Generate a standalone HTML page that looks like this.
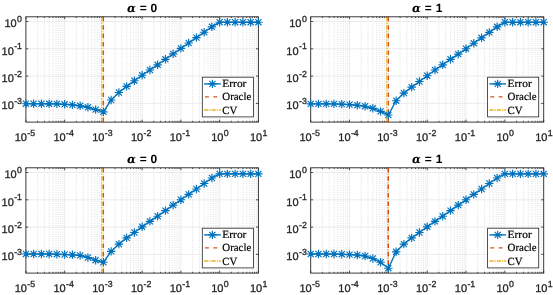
<!DOCTYPE html><html><head><meta charset="utf-8"><title>Error plots</title>
<style>html,body{margin:0;padding:0;background:#fff;overflow:hidden}svg{display:block}text{font-family:"Liberation Sans",Arial,sans-serif;fill:#262626;text-rendering:geometricPrecision}.lg{font-family:"Liberation Serif","Times New Roman",serif;font-size:11px;fill:#000;stroke:#000;stroke-width:0.2px}.tl{font-size:11px;stroke:#262626;stroke-width:0.3px}.sup{font-size:8.8px}.ti{font-size:12px;font-weight:bold;fill:#000;word-spacing:0.5px}.al{font-family:"DejaVu Serif",serif;font-style:italic;font-weight:bold;font-size:11.6px}</style></head><body>
<svg width="553" height="295" viewBox="0 0 553 295">
<defs><g id="m" stroke="#0072BD" stroke-width="1.15" fill="none"><path d="M-4.2 0H4.2M0 -4.2V4.2M-3.05 -3.05L3.05 3.05M-3.05 3.05L3.05 -3.05"/></g></defs>
<rect width="553" height="295" fill="#fff"/>
<g>
<path d="M37.56 16.8V122.1M44.39 16.8V122.1M49.23 16.8V122.1M52.99 16.8V122.1M56.05 16.8V122.1M58.65 16.8V122.1M60.89 16.8V122.1M62.88 16.8V122.1M76.31 16.8V122.1M83.14 16.8V122.1M87.98 16.8V122.1M91.74 16.8V122.1M94.8 16.8V122.1M97.4 16.8V122.1M99.64 16.8V122.1M101.63 16.8V122.1M115.06 16.8V122.1M121.89 16.8V122.1M126.73 16.8V122.1M130.49 16.8V122.1M133.55 16.8V122.1M136.15 16.8V122.1M138.39 16.8V122.1M140.38 16.8V122.1M153.81 16.8V122.1M160.64 16.8V122.1M165.48 16.8V122.1M169.24 16.8V122.1M172.3 16.8V122.1M174.9 16.8V122.1M177.14 16.8V122.1M179.13 16.8V122.1M192.56 16.8V122.1M199.39 16.8V122.1M204.23 16.8V122.1M207.99 16.8V122.1M211.05 16.8V122.1M213.65 16.8V122.1M215.89 16.8V122.1M217.88 16.8V122.1M231.31 16.8V122.1M238.14 16.8V122.1M242.98 16.8V122.1M246.74 16.8V122.1M249.8 16.8V122.1M252.4 16.8V122.1M254.64 16.8V122.1M256.63 16.8V122.1" stroke="#c8c8c8" stroke-width="0.6" stroke-dasharray="0.9 1.3" fill="none"/>
<path d="M64.65 16.8V122.1M103.4 16.8V122.1M142.15 16.8V122.1M180.9 16.8V122.1M219.65 16.8V122.1M25.9 21.5H258.4M25.9 48.8H258.4M25.9 76.1H258.4M25.9 103.4H258.4" stroke="#e6e6e6" stroke-width="0.75" fill="none"/>
<path d="M25.9 122.1v-2.4M25.9 16.8v2.4M37.56 122.1v-1.2M37.56 16.8v1.2M44.39 122.1v-1.2M44.39 16.8v1.2M49.23 122.1v-1.2M49.23 16.8v1.2M52.99 122.1v-1.2M52.99 16.8v1.2M56.05 122.1v-1.2M56.05 16.8v1.2M58.65 122.1v-1.2M58.65 16.8v1.2M60.89 122.1v-1.2M60.89 16.8v1.2M62.88 122.1v-1.2M62.88 16.8v1.2M64.65 122.1v-2.4M64.65 16.8v2.4M76.31 122.1v-1.2M76.31 16.8v1.2M83.14 122.1v-1.2M83.14 16.8v1.2M87.98 122.1v-1.2M87.98 16.8v1.2M91.74 122.1v-1.2M91.74 16.8v1.2M94.8 122.1v-1.2M94.8 16.8v1.2M97.4 122.1v-1.2M97.4 16.8v1.2M99.64 122.1v-1.2M99.64 16.8v1.2M101.63 122.1v-1.2M101.63 16.8v1.2M103.4 122.1v-2.4M103.4 16.8v2.4M115.06 122.1v-1.2M115.06 16.8v1.2M121.89 122.1v-1.2M121.89 16.8v1.2M126.73 122.1v-1.2M126.73 16.8v1.2M130.49 122.1v-1.2M130.49 16.8v1.2M133.55 122.1v-1.2M133.55 16.8v1.2M136.15 122.1v-1.2M136.15 16.8v1.2M138.39 122.1v-1.2M138.39 16.8v1.2M140.38 122.1v-1.2M140.38 16.8v1.2M142.15 122.1v-2.4M142.15 16.8v2.4M153.81 122.1v-1.2M153.81 16.8v1.2M160.64 122.1v-1.2M160.64 16.8v1.2M165.48 122.1v-1.2M165.48 16.8v1.2M169.24 122.1v-1.2M169.24 16.8v1.2M172.3 122.1v-1.2M172.3 16.8v1.2M174.9 122.1v-1.2M174.9 16.8v1.2M177.14 122.1v-1.2M177.14 16.8v1.2M179.13 122.1v-1.2M179.13 16.8v1.2M180.9 122.1v-2.4M180.9 16.8v2.4M192.56 122.1v-1.2M192.56 16.8v1.2M199.39 122.1v-1.2M199.39 16.8v1.2M204.23 122.1v-1.2M204.23 16.8v1.2M207.99 122.1v-1.2M207.99 16.8v1.2M211.05 122.1v-1.2M211.05 16.8v1.2M213.65 122.1v-1.2M213.65 16.8v1.2M215.89 122.1v-1.2M215.89 16.8v1.2M217.88 122.1v-1.2M217.88 16.8v1.2M219.65 122.1v-2.4M219.65 16.8v2.4M231.31 122.1v-1.2M231.31 16.8v1.2M238.14 122.1v-1.2M238.14 16.8v1.2M242.98 122.1v-1.2M242.98 16.8v1.2M246.74 122.1v-1.2M246.74 16.8v1.2M249.8 122.1v-1.2M249.8 16.8v1.2M252.4 122.1v-1.2M252.4 16.8v1.2M254.64 122.1v-1.2M254.64 16.8v1.2M256.63 122.1v-1.2M256.63 16.8v1.2M258.4 122.1v-2.4M258.4 16.8v2.4M25.9 21.5h2.4M258.4 21.5h-2.4M25.9 48.8h2.4M258.4 48.8h-2.4M25.9 76.1h2.4M258.4 76.1h-2.4M25.9 103.4h2.4M258.4 103.4h-2.4" stroke="#262626" stroke-width="0.8" fill="none"/>
<path d="M101.9 16.8V122.1" stroke="#EDB120" stroke-width="1.3" stroke-dasharray="4.4 1.3 1.4 1.3" fill="none"/>
<path d="M103.4 16.8V122.1" stroke="#D95319" stroke-width="1.3" stroke-dasharray="4.6 3.8" fill="none"/>
<rect x="25.9" y="16.8" width="232.5" height="105.3" fill="none" stroke="#262626" stroke-width="0.9"/>
<path d="M25.9 103.7 L33.65 103.7 L41.4 103.7 L49.15 103.8 L56.9 103.9 L64.65 104.3 L72.4 104.9 L80.15 105.8 L87.9 107.3 L95.65 109.6 L103.4 111.8 L111.15 100 L118.9 92.5 L126.65 86.4 L134.4 80.7 L142.15 75.2 L149.9 70 L157.65 64.8 L165.4 59.3 L173.15 53.9 L180.9 48.4 L188.65 43 L196.4 37.6 L204.15 32.2 L211.9 26.8 L219.65 22.2 L227.4 22.2 L235.15 22.2 L242.9 22.2 L250.65 22.2 L258.4 22.2" stroke="#0072BD" stroke-width="1.4" fill="none" stroke-linejoin="round"/>
<use href="#m" x="25.9" y="103.7"/>
<use href="#m" x="33.65" y="103.7"/>
<use href="#m" x="41.4" y="103.7"/>
<use href="#m" x="49.15" y="103.8"/>
<use href="#m" x="56.9" y="103.9"/>
<use href="#m" x="64.65" y="104.3"/>
<use href="#m" x="72.4" y="104.9"/>
<use href="#m" x="80.15" y="105.8"/>
<use href="#m" x="87.9" y="107.3"/>
<use href="#m" x="95.65" y="109.6"/>
<use href="#m" x="103.4" y="111.8"/>
<use href="#m" x="111.15" y="100"/>
<use href="#m" x="118.9" y="92.5"/>
<use href="#m" x="126.65" y="86.4"/>
<use href="#m" x="134.4" y="80.7"/>
<use href="#m" x="142.15" y="75.2"/>
<use href="#m" x="149.9" y="70"/>
<use href="#m" x="157.65" y="64.8"/>
<use href="#m" x="165.4" y="59.3"/>
<use href="#m" x="173.15" y="53.9"/>
<use href="#m" x="180.9" y="48.4"/>
<use href="#m" x="188.65" y="43"/>
<use href="#m" x="196.4" y="37.6"/>
<use href="#m" x="204.15" y="32.2"/>
<use href="#m" x="211.9" y="26.8"/>
<use href="#m" x="219.65" y="22.2"/>
<use href="#m" x="227.4" y="22.2"/>
<use href="#m" x="235.15" y="22.2"/>
<use href="#m" x="242.9" y="22.2"/>
<use href="#m" x="250.65" y="22.2"/>
<use href="#m" x="258.4" y="22.2"/>
<rect x="202.3" y="77.2" width="51.1" height="39.7" fill="#fff" stroke="#262626" stroke-width="0.8"/>
<path d="M204.1 83.9h16.7" stroke="#0072BD" stroke-width="1.4"/><use href="#m" x="212.4" y="83.9"/>
<path d="M205 96.95h14" stroke="#D95319" stroke-width="1.3" stroke-dasharray="3.9 4.5"/>
<path d="M204.1 110h16.7" stroke="#EDB120" stroke-width="1.3" stroke-dasharray="4.2 1 1.2 1"/>
<text class="lg" x="222.3" y="87.4" textLength="24.1" lengthAdjust="spacingAndGlyphs">Error</text>
<text class="lg" x="222.3" y="100.45" textLength="29" lengthAdjust="spacingAndGlyphs">Oracle</text>
<text class="lg" x="222.3" y="113.5" textLength="15" lengthAdjust="spacingAndGlyphs">CV</text>
<text class="tl" x="22" y="27.3" text-anchor="end">10<tspan class="sup" dx="0.4" dy="-5.3">0</tspan></text>
<text class="tl" x="22" y="54.6" text-anchor="end">10<tspan class="sup" dx="0.4" dy="-5.3">-1</tspan></text>
<text class="tl" x="22" y="81.9" text-anchor="end">10<tspan class="sup" dx="0.4" dy="-5.3">-2</tspan></text>
<text class="tl" x="22" y="109.2" text-anchor="end">10<tspan class="sup" dx="0.4" dy="-5.3">-3</tspan></text>
<text class="tl" x="24.9" y="141.4" text-anchor="middle">10<tspan class="sup" dx="0.4" dy="-5.3">-5</tspan></text>
<text class="tl" x="63.65" y="141.4" text-anchor="middle">10<tspan class="sup" dx="0.4" dy="-5.3">-4</tspan></text>
<text class="tl" x="102.4" y="141.4" text-anchor="middle">10<tspan class="sup" dx="0.4" dy="-5.3">-3</tspan></text>
<text class="tl" x="141.15" y="141.4" text-anchor="middle">10<tspan class="sup" dx="0.4" dy="-5.3">-2</tspan></text>
<text class="tl" x="179.9" y="141.4" text-anchor="middle">10<tspan class="sup" dx="0.4" dy="-5.3">-1</tspan></text>
<text class="tl" x="219.95" y="141.4" text-anchor="middle">10<tspan class="sup" dx="0.4" dy="-5.3">0</tspan></text>
<text class="tl" x="258.7" y="141.4" text-anchor="middle">10<tspan class="sup" dx="0.4" dy="-5.3">1</tspan></text>
<text class="ti" x="142.15" y="12" text-anchor="middle"><tspan class="al">α</tspan> = 0</text>
</g>
<g>
<path d="M322.39 16.8V122.1M329.23 16.8V122.1M334.08 16.8V122.1M337.84 16.8V122.1M340.92 16.8V122.1M343.52 16.8V122.1M345.77 16.8V122.1M347.76 16.8V122.1M361.22 16.8V122.1M368.06 16.8V122.1M372.91 16.8V122.1M376.68 16.8V122.1M379.75 16.8V122.1M382.35 16.8V122.1M384.6 16.8V122.1M386.59 16.8V122.1M400.06 16.8V122.1M406.89 16.8V122.1M411.75 16.8V122.1M415.51 16.8V122.1M418.58 16.8V122.1M421.18 16.8V122.1M423.44 16.8V122.1M425.42 16.8V122.1M438.89 16.8V122.1M445.73 16.8V122.1M450.58 16.8V122.1M454.34 16.8V122.1M457.42 16.8V122.1M460.02 16.8V122.1M462.27 16.8V122.1M464.26 16.8V122.1M477.72 16.8V122.1M484.56 16.8V122.1M489.41 16.8V122.1M493.18 16.8V122.1M496.25 16.8V122.1M498.85 16.8V122.1M501.1 16.8V122.1M503.09 16.8V122.1M516.56 16.8V122.1M523.39 16.8V122.1M528.25 16.8V122.1M532.01 16.8V122.1M535.08 16.8V122.1M537.68 16.8V122.1M539.94 16.8V122.1M541.92 16.8V122.1" stroke="#c8c8c8" stroke-width="0.6" stroke-dasharray="0.9 1.3" fill="none"/>
<path d="M349.53 16.8V122.1M388.37 16.8V122.1M427.2 16.8V122.1M466.03 16.8V122.1M504.87 16.8V122.1M310.7 21.5H543.7M310.7 48.8H543.7M310.7 76.1H543.7M310.7 103.4H543.7" stroke="#e6e6e6" stroke-width="0.75" fill="none"/>
<path d="M310.7 122.1v-2.4M310.7 16.8v2.4M322.39 122.1v-1.2M322.39 16.8v1.2M329.23 122.1v-1.2M329.23 16.8v1.2M334.08 122.1v-1.2M334.08 16.8v1.2M337.84 122.1v-1.2M337.84 16.8v1.2M340.92 122.1v-1.2M340.92 16.8v1.2M343.52 122.1v-1.2M343.52 16.8v1.2M345.77 122.1v-1.2M345.77 16.8v1.2M347.76 122.1v-1.2M347.76 16.8v1.2M349.53 122.1v-2.4M349.53 16.8v2.4M361.22 122.1v-1.2M361.22 16.8v1.2M368.06 122.1v-1.2M368.06 16.8v1.2M372.91 122.1v-1.2M372.91 16.8v1.2M376.68 122.1v-1.2M376.68 16.8v1.2M379.75 122.1v-1.2M379.75 16.8v1.2M382.35 122.1v-1.2M382.35 16.8v1.2M384.6 122.1v-1.2M384.6 16.8v1.2M386.59 122.1v-1.2M386.59 16.8v1.2M388.37 122.1v-2.4M388.37 16.8v2.4M400.06 122.1v-1.2M400.06 16.8v1.2M406.89 122.1v-1.2M406.89 16.8v1.2M411.75 122.1v-1.2M411.75 16.8v1.2M415.51 122.1v-1.2M415.51 16.8v1.2M418.58 122.1v-1.2M418.58 16.8v1.2M421.18 122.1v-1.2M421.18 16.8v1.2M423.44 122.1v-1.2M423.44 16.8v1.2M425.42 122.1v-1.2M425.42 16.8v1.2M427.2 122.1v-2.4M427.2 16.8v2.4M438.89 122.1v-1.2M438.89 16.8v1.2M445.73 122.1v-1.2M445.73 16.8v1.2M450.58 122.1v-1.2M450.58 16.8v1.2M454.34 122.1v-1.2M454.34 16.8v1.2M457.42 122.1v-1.2M457.42 16.8v1.2M460.02 122.1v-1.2M460.02 16.8v1.2M462.27 122.1v-1.2M462.27 16.8v1.2M464.26 122.1v-1.2M464.26 16.8v1.2M466.03 122.1v-2.4M466.03 16.8v2.4M477.72 122.1v-1.2M477.72 16.8v1.2M484.56 122.1v-1.2M484.56 16.8v1.2M489.41 122.1v-1.2M489.41 16.8v1.2M493.18 122.1v-1.2M493.18 16.8v1.2M496.25 122.1v-1.2M496.25 16.8v1.2M498.85 122.1v-1.2M498.85 16.8v1.2M501.1 122.1v-1.2M501.1 16.8v1.2M503.09 122.1v-1.2M503.09 16.8v1.2M504.87 122.1v-2.4M504.87 16.8v2.4M516.56 122.1v-1.2M516.56 16.8v1.2M523.39 122.1v-1.2M523.39 16.8v1.2M528.25 122.1v-1.2M528.25 16.8v1.2M532.01 122.1v-1.2M532.01 16.8v1.2M535.08 122.1v-1.2M535.08 16.8v1.2M537.68 122.1v-1.2M537.68 16.8v1.2M539.94 122.1v-1.2M539.94 16.8v1.2M541.92 122.1v-1.2M541.92 16.8v1.2M543.7 122.1v-2.4M543.7 16.8v2.4M310.7 21.5h2.4M543.7 21.5h-2.4M310.7 48.8h2.4M543.7 48.8h-2.4M310.7 76.1h2.4M543.7 76.1h-2.4M310.7 103.4h2.4M543.7 103.4h-2.4" stroke="#262626" stroke-width="0.8" fill="none"/>
<path d="M386.87 16.8V122.1" stroke="#EDB120" stroke-width="1.3" stroke-dasharray="4.4 1.3 1.4 1.3" fill="none"/>
<path d="M388.37 16.8V122.1" stroke="#D95319" stroke-width="1.3" stroke-dasharray="4.6 3.8" fill="none"/>
<rect x="310.7" y="16.8" width="233" height="105.3" fill="none" stroke="#262626" stroke-width="0.9"/>
<path d="M310.7 103.9 L318.47 103.9 L326.23 103.9 L334 103.9 L341.77 104.1 L349.53 104.6 L357.3 105.3 L365.07 106.2 L372.83 108.3 L380.6 111.4 L388.37 115 L396.13 100.7 L403.9 93.1 L411.67 87.1 L419.43 81.5 L427.2 75.7 L434.97 70 L442.73 64.8 L450.5 59.3 L458.27 54.1 L466.03 48.7 L473.8 43.2 L481.57 37.8 L489.33 32.4 L497.1 26.8 L504.87 22.2 L512.63 22.2 L520.4 22.2 L528.17 22.2 L535.93 22.2 L543.7 22.2" stroke="#0072BD" stroke-width="1.4" fill="none" stroke-linejoin="round"/>
<use href="#m" x="310.7" y="103.9"/>
<use href="#m" x="318.47" y="103.9"/>
<use href="#m" x="326.23" y="103.9"/>
<use href="#m" x="334" y="103.9"/>
<use href="#m" x="341.77" y="104.1"/>
<use href="#m" x="349.53" y="104.6"/>
<use href="#m" x="357.3" y="105.3"/>
<use href="#m" x="365.07" y="106.2"/>
<use href="#m" x="372.83" y="108.3"/>
<use href="#m" x="380.6" y="111.4"/>
<use href="#m" x="388.37" y="115"/>
<use href="#m" x="396.13" y="100.7"/>
<use href="#m" x="403.9" y="93.1"/>
<use href="#m" x="411.67" y="87.1"/>
<use href="#m" x="419.43" y="81.5"/>
<use href="#m" x="427.2" y="75.7"/>
<use href="#m" x="434.97" y="70"/>
<use href="#m" x="442.73" y="64.8"/>
<use href="#m" x="450.5" y="59.3"/>
<use href="#m" x="458.27" y="54.1"/>
<use href="#m" x="466.03" y="48.7"/>
<use href="#m" x="473.8" y="43.2"/>
<use href="#m" x="481.57" y="37.8"/>
<use href="#m" x="489.33" y="32.4"/>
<use href="#m" x="497.1" y="26.8"/>
<use href="#m" x="504.87" y="22.2"/>
<use href="#m" x="512.63" y="22.2"/>
<use href="#m" x="520.4" y="22.2"/>
<use href="#m" x="528.17" y="22.2"/>
<use href="#m" x="535.93" y="22.2"/>
<use href="#m" x="543.7" y="22.2"/>
<rect x="487.6" y="77.2" width="51.1" height="39.7" fill="#fff" stroke="#262626" stroke-width="0.8"/>
<path d="M489.4 83.9h16.7" stroke="#0072BD" stroke-width="1.4"/><use href="#m" x="497.7" y="83.9"/>
<path d="M490.3 96.95h14" stroke="#D95319" stroke-width="1.3" stroke-dasharray="3.9 4.5"/>
<path d="M489.4 110h16.7" stroke="#EDB120" stroke-width="1.3" stroke-dasharray="4.2 1 1.2 1"/>
<text class="lg" x="507.6" y="87.4" textLength="24.1" lengthAdjust="spacingAndGlyphs">Error</text>
<text class="lg" x="507.6" y="100.45" textLength="29" lengthAdjust="spacingAndGlyphs">Oracle</text>
<text class="lg" x="507.6" y="113.5" textLength="15" lengthAdjust="spacingAndGlyphs">CV</text>
<text class="tl" x="306.8" y="27.3" text-anchor="end">10<tspan class="sup" dx="0.4" dy="-5.3">0</tspan></text>
<text class="tl" x="306.8" y="54.6" text-anchor="end">10<tspan class="sup" dx="0.4" dy="-5.3">-1</tspan></text>
<text class="tl" x="306.8" y="81.9" text-anchor="end">10<tspan class="sup" dx="0.4" dy="-5.3">-2</tspan></text>
<text class="tl" x="306.8" y="109.2" text-anchor="end">10<tspan class="sup" dx="0.4" dy="-5.3">-3</tspan></text>
<text class="tl" x="309.7" y="141.4" text-anchor="middle">10<tspan class="sup" dx="0.4" dy="-5.3">-5</tspan></text>
<text class="tl" x="348.53" y="141.4" text-anchor="middle">10<tspan class="sup" dx="0.4" dy="-5.3">-4</tspan></text>
<text class="tl" x="387.37" y="141.4" text-anchor="middle">10<tspan class="sup" dx="0.4" dy="-5.3">-3</tspan></text>
<text class="tl" x="426.2" y="141.4" text-anchor="middle">10<tspan class="sup" dx="0.4" dy="-5.3">-2</tspan></text>
<text class="tl" x="465.03" y="141.4" text-anchor="middle">10<tspan class="sup" dx="0.4" dy="-5.3">-1</tspan></text>
<text class="tl" x="505.17" y="141.4" text-anchor="middle">10<tspan class="sup" dx="0.4" dy="-5.3">0</tspan></text>
<text class="tl" x="544" y="141.4" text-anchor="middle">10<tspan class="sup" dx="0.4" dy="-5.3">1</tspan></text>
<text class="ti" x="427.2" y="12" text-anchor="middle"><tspan class="al">α</tspan> = 1</text>
</g>
<g>
<path d="M37.56 167.8V273.1M44.39 167.8V273.1M49.23 167.8V273.1M52.99 167.8V273.1M56.05 167.8V273.1M58.65 167.8V273.1M60.89 167.8V273.1M62.88 167.8V273.1M76.31 167.8V273.1M83.14 167.8V273.1M87.98 167.8V273.1M91.74 167.8V273.1M94.8 167.8V273.1M97.4 167.8V273.1M99.64 167.8V273.1M101.63 167.8V273.1M115.06 167.8V273.1M121.89 167.8V273.1M126.73 167.8V273.1M130.49 167.8V273.1M133.55 167.8V273.1M136.15 167.8V273.1M138.39 167.8V273.1M140.38 167.8V273.1M153.81 167.8V273.1M160.64 167.8V273.1M165.48 167.8V273.1M169.24 167.8V273.1M172.3 167.8V273.1M174.9 167.8V273.1M177.14 167.8V273.1M179.13 167.8V273.1M192.56 167.8V273.1M199.39 167.8V273.1M204.23 167.8V273.1M207.99 167.8V273.1M211.05 167.8V273.1M213.65 167.8V273.1M215.89 167.8V273.1M217.88 167.8V273.1M231.31 167.8V273.1M238.14 167.8V273.1M242.98 167.8V273.1M246.74 167.8V273.1M249.8 167.8V273.1M252.4 167.8V273.1M254.64 167.8V273.1M256.63 167.8V273.1" stroke="#c8c8c8" stroke-width="0.6" stroke-dasharray="0.9 1.3" fill="none"/>
<path d="M64.65 167.8V273.1M103.4 167.8V273.1M142.15 167.8V273.1M180.9 167.8V273.1M219.65 167.8V273.1M25.9 172.5H258.4M25.9 199.8H258.4M25.9 227.1H258.4M25.9 254.4H258.4" stroke="#e6e6e6" stroke-width="0.75" fill="none"/>
<path d="M25.9 273.1v-2.4M25.9 167.8v2.4M37.56 273.1v-1.2M37.56 167.8v1.2M44.39 273.1v-1.2M44.39 167.8v1.2M49.23 273.1v-1.2M49.23 167.8v1.2M52.99 273.1v-1.2M52.99 167.8v1.2M56.05 273.1v-1.2M56.05 167.8v1.2M58.65 273.1v-1.2M58.65 167.8v1.2M60.89 273.1v-1.2M60.89 167.8v1.2M62.88 273.1v-1.2M62.88 167.8v1.2M64.65 273.1v-2.4M64.65 167.8v2.4M76.31 273.1v-1.2M76.31 167.8v1.2M83.14 273.1v-1.2M83.14 167.8v1.2M87.98 273.1v-1.2M87.98 167.8v1.2M91.74 273.1v-1.2M91.74 167.8v1.2M94.8 273.1v-1.2M94.8 167.8v1.2M97.4 273.1v-1.2M97.4 167.8v1.2M99.64 273.1v-1.2M99.64 167.8v1.2M101.63 273.1v-1.2M101.63 167.8v1.2M103.4 273.1v-2.4M103.4 167.8v2.4M115.06 273.1v-1.2M115.06 167.8v1.2M121.89 273.1v-1.2M121.89 167.8v1.2M126.73 273.1v-1.2M126.73 167.8v1.2M130.49 273.1v-1.2M130.49 167.8v1.2M133.55 273.1v-1.2M133.55 167.8v1.2M136.15 273.1v-1.2M136.15 167.8v1.2M138.39 273.1v-1.2M138.39 167.8v1.2M140.38 273.1v-1.2M140.38 167.8v1.2M142.15 273.1v-2.4M142.15 167.8v2.4M153.81 273.1v-1.2M153.81 167.8v1.2M160.64 273.1v-1.2M160.64 167.8v1.2M165.48 273.1v-1.2M165.48 167.8v1.2M169.24 273.1v-1.2M169.24 167.8v1.2M172.3 273.1v-1.2M172.3 167.8v1.2M174.9 273.1v-1.2M174.9 167.8v1.2M177.14 273.1v-1.2M177.14 167.8v1.2M179.13 273.1v-1.2M179.13 167.8v1.2M180.9 273.1v-2.4M180.9 167.8v2.4M192.56 273.1v-1.2M192.56 167.8v1.2M199.39 273.1v-1.2M199.39 167.8v1.2M204.23 273.1v-1.2M204.23 167.8v1.2M207.99 273.1v-1.2M207.99 167.8v1.2M211.05 273.1v-1.2M211.05 167.8v1.2M213.65 273.1v-1.2M213.65 167.8v1.2M215.89 273.1v-1.2M215.89 167.8v1.2M217.88 273.1v-1.2M217.88 167.8v1.2M219.65 273.1v-2.4M219.65 167.8v2.4M231.31 273.1v-1.2M231.31 167.8v1.2M238.14 273.1v-1.2M238.14 167.8v1.2M242.98 273.1v-1.2M242.98 167.8v1.2M246.74 273.1v-1.2M246.74 167.8v1.2M249.8 273.1v-1.2M249.8 167.8v1.2M252.4 273.1v-1.2M252.4 167.8v1.2M254.64 273.1v-1.2M254.64 167.8v1.2M256.63 273.1v-1.2M256.63 167.8v1.2M258.4 273.1v-2.4M258.4 167.8v2.4M25.9 172.5h2.4M258.4 172.5h-2.4M25.9 199.8h2.4M258.4 199.8h-2.4M25.9 227.1h2.4M258.4 227.1h-2.4M25.9 254.4h2.4M258.4 254.4h-2.4" stroke="#262626" stroke-width="0.8" fill="none"/>
<path d="M101.9 167.8V273.1" stroke="#EDB120" stroke-width="1.3" stroke-dasharray="4.4 1.3 1.4 1.3" fill="none"/>
<path d="M103.4 167.8V273.1" stroke="#D95319" stroke-width="1.3" stroke-dasharray="4.6 3.8" fill="none"/>
<rect x="25.9" y="167.8" width="232.5" height="105.3" fill="none" stroke="#262626" stroke-width="0.9"/>
<path d="M25.9 254 L33.65 254 L41.4 254 L49.15 254 L56.9 254.2 L64.65 254.5 L72.4 254.8 L80.15 255.4 L87.9 257.5 L95.65 260.2 L103.4 262.3 L111.15 251.4 L118.9 244.1 L126.65 237.9 L134.4 232.5 L142.15 226.8 L149.9 221.4 L157.65 216.2 L165.4 210.6 L173.15 205.1 L180.9 199.7 L188.65 194.4 L196.4 189 L204.15 183.5 L211.9 178 L219.65 173.9 L227.4 173.9 L235.15 173.9 L242.9 173.9 L250.65 173.9 L258.4 173.9" stroke="#0072BD" stroke-width="1.4" fill="none" stroke-linejoin="round"/>
<use href="#m" x="25.9" y="254"/>
<use href="#m" x="33.65" y="254"/>
<use href="#m" x="41.4" y="254"/>
<use href="#m" x="49.15" y="254"/>
<use href="#m" x="56.9" y="254.2"/>
<use href="#m" x="64.65" y="254.5"/>
<use href="#m" x="72.4" y="254.8"/>
<use href="#m" x="80.15" y="255.4"/>
<use href="#m" x="87.9" y="257.5"/>
<use href="#m" x="95.65" y="260.2"/>
<use href="#m" x="103.4" y="262.3"/>
<use href="#m" x="111.15" y="251.4"/>
<use href="#m" x="118.9" y="244.1"/>
<use href="#m" x="126.65" y="237.9"/>
<use href="#m" x="134.4" y="232.5"/>
<use href="#m" x="142.15" y="226.8"/>
<use href="#m" x="149.9" y="221.4"/>
<use href="#m" x="157.65" y="216.2"/>
<use href="#m" x="165.4" y="210.6"/>
<use href="#m" x="173.15" y="205.1"/>
<use href="#m" x="180.9" y="199.7"/>
<use href="#m" x="188.65" y="194.4"/>
<use href="#m" x="196.4" y="189"/>
<use href="#m" x="204.15" y="183.5"/>
<use href="#m" x="211.9" y="178"/>
<use href="#m" x="219.65" y="173.9"/>
<use href="#m" x="227.4" y="173.9"/>
<use href="#m" x="235.15" y="173.9"/>
<use href="#m" x="242.9" y="173.9"/>
<use href="#m" x="250.65" y="173.9"/>
<use href="#m" x="258.4" y="173.9"/>
<rect x="202.3" y="228.2" width="51.1" height="39.7" fill="#fff" stroke="#262626" stroke-width="0.8"/>
<path d="M204.1 234.9h16.7" stroke="#0072BD" stroke-width="1.4"/><use href="#m" x="212.4" y="234.9"/>
<path d="M205 247.95h14" stroke="#D95319" stroke-width="1.3" stroke-dasharray="3.9 4.5"/>
<path d="M204.1 261h16.7" stroke="#EDB120" stroke-width="1.3" stroke-dasharray="4.2 1 1.2 1"/>
<text class="lg" x="222.3" y="238.4" textLength="24.1" lengthAdjust="spacingAndGlyphs">Error</text>
<text class="lg" x="222.3" y="251.45" textLength="29" lengthAdjust="spacingAndGlyphs">Oracle</text>
<text class="lg" x="222.3" y="264.5" textLength="15" lengthAdjust="spacingAndGlyphs">CV</text>
<text class="tl" x="22" y="178.3" text-anchor="end">10<tspan class="sup" dx="0.4" dy="-5.3">0</tspan></text>
<text class="tl" x="22" y="205.6" text-anchor="end">10<tspan class="sup" dx="0.4" dy="-5.3">-1</tspan></text>
<text class="tl" x="22" y="232.9" text-anchor="end">10<tspan class="sup" dx="0.4" dy="-5.3">-2</tspan></text>
<text class="tl" x="22" y="260.2" text-anchor="end">10<tspan class="sup" dx="0.4" dy="-5.3">-3</tspan></text>
<text class="tl" x="24.9" y="292.4" text-anchor="middle">10<tspan class="sup" dx="0.4" dy="-5.3">-5</tspan></text>
<text class="tl" x="63.65" y="292.4" text-anchor="middle">10<tspan class="sup" dx="0.4" dy="-5.3">-4</tspan></text>
<text class="tl" x="102.4" y="292.4" text-anchor="middle">10<tspan class="sup" dx="0.4" dy="-5.3">-3</tspan></text>
<text class="tl" x="141.15" y="292.4" text-anchor="middle">10<tspan class="sup" dx="0.4" dy="-5.3">-2</tspan></text>
<text class="tl" x="179.9" y="292.4" text-anchor="middle">10<tspan class="sup" dx="0.4" dy="-5.3">-1</tspan></text>
<text class="tl" x="219.95" y="292.4" text-anchor="middle">10<tspan class="sup" dx="0.4" dy="-5.3">0</tspan></text>
<text class="tl" x="258.7" y="292.4" text-anchor="middle">10<tspan class="sup" dx="0.4" dy="-5.3">1</tspan></text>
<text class="ti" x="142.15" y="163" text-anchor="middle"><tspan class="al">α</tspan> = 0</text>
</g>
<g>
<path d="M322.39 167.8V273.1M329.23 167.8V273.1M334.08 167.8V273.1M337.84 167.8V273.1M340.92 167.8V273.1M343.52 167.8V273.1M345.77 167.8V273.1M347.76 167.8V273.1M361.22 167.8V273.1M368.06 167.8V273.1M372.91 167.8V273.1M376.68 167.8V273.1M379.75 167.8V273.1M382.35 167.8V273.1M384.6 167.8V273.1M386.59 167.8V273.1M400.06 167.8V273.1M406.89 167.8V273.1M411.75 167.8V273.1M415.51 167.8V273.1M418.58 167.8V273.1M421.18 167.8V273.1M423.44 167.8V273.1M425.42 167.8V273.1M438.89 167.8V273.1M445.73 167.8V273.1M450.58 167.8V273.1M454.34 167.8V273.1M457.42 167.8V273.1M460.02 167.8V273.1M462.27 167.8V273.1M464.26 167.8V273.1M477.72 167.8V273.1M484.56 167.8V273.1M489.41 167.8V273.1M493.18 167.8V273.1M496.25 167.8V273.1M498.85 167.8V273.1M501.1 167.8V273.1M503.09 167.8V273.1M516.56 167.8V273.1M523.39 167.8V273.1M528.25 167.8V273.1M532.01 167.8V273.1M535.08 167.8V273.1M537.68 167.8V273.1M539.94 167.8V273.1M541.92 167.8V273.1" stroke="#c8c8c8" stroke-width="0.6" stroke-dasharray="0.9 1.3" fill="none"/>
<path d="M349.53 167.8V273.1M388.37 167.8V273.1M427.2 167.8V273.1M466.03 167.8V273.1M504.87 167.8V273.1M310.7 172.5H543.7M310.7 199.8H543.7M310.7 227.1H543.7M310.7 254.4H543.7" stroke="#e6e6e6" stroke-width="0.75" fill="none"/>
<path d="M310.7 273.1v-2.4M310.7 167.8v2.4M322.39 273.1v-1.2M322.39 167.8v1.2M329.23 273.1v-1.2M329.23 167.8v1.2M334.08 273.1v-1.2M334.08 167.8v1.2M337.84 273.1v-1.2M337.84 167.8v1.2M340.92 273.1v-1.2M340.92 167.8v1.2M343.52 273.1v-1.2M343.52 167.8v1.2M345.77 273.1v-1.2M345.77 167.8v1.2M347.76 273.1v-1.2M347.76 167.8v1.2M349.53 273.1v-2.4M349.53 167.8v2.4M361.22 273.1v-1.2M361.22 167.8v1.2M368.06 273.1v-1.2M368.06 167.8v1.2M372.91 273.1v-1.2M372.91 167.8v1.2M376.68 273.1v-1.2M376.68 167.8v1.2M379.75 273.1v-1.2M379.75 167.8v1.2M382.35 273.1v-1.2M382.35 167.8v1.2M384.6 273.1v-1.2M384.6 167.8v1.2M386.59 273.1v-1.2M386.59 167.8v1.2M388.37 273.1v-2.4M388.37 167.8v2.4M400.06 273.1v-1.2M400.06 167.8v1.2M406.89 273.1v-1.2M406.89 167.8v1.2M411.75 273.1v-1.2M411.75 167.8v1.2M415.51 273.1v-1.2M415.51 167.8v1.2M418.58 273.1v-1.2M418.58 167.8v1.2M421.18 273.1v-1.2M421.18 167.8v1.2M423.44 273.1v-1.2M423.44 167.8v1.2M425.42 273.1v-1.2M425.42 167.8v1.2M427.2 273.1v-2.4M427.2 167.8v2.4M438.89 273.1v-1.2M438.89 167.8v1.2M445.73 273.1v-1.2M445.73 167.8v1.2M450.58 273.1v-1.2M450.58 167.8v1.2M454.34 273.1v-1.2M454.34 167.8v1.2M457.42 273.1v-1.2M457.42 167.8v1.2M460.02 273.1v-1.2M460.02 167.8v1.2M462.27 273.1v-1.2M462.27 167.8v1.2M464.26 273.1v-1.2M464.26 167.8v1.2M466.03 273.1v-2.4M466.03 167.8v2.4M477.72 273.1v-1.2M477.72 167.8v1.2M484.56 273.1v-1.2M484.56 167.8v1.2M489.41 273.1v-1.2M489.41 167.8v1.2M493.18 273.1v-1.2M493.18 167.8v1.2M496.25 273.1v-1.2M496.25 167.8v1.2M498.85 273.1v-1.2M498.85 167.8v1.2M501.1 273.1v-1.2M501.1 167.8v1.2M503.09 273.1v-1.2M503.09 167.8v1.2M504.87 273.1v-2.4M504.87 167.8v2.4M516.56 273.1v-1.2M516.56 167.8v1.2M523.39 273.1v-1.2M523.39 167.8v1.2M528.25 273.1v-1.2M528.25 167.8v1.2M532.01 273.1v-1.2M532.01 167.8v1.2M535.08 273.1v-1.2M535.08 167.8v1.2M537.68 273.1v-1.2M537.68 167.8v1.2M539.94 273.1v-1.2M539.94 167.8v1.2M541.92 273.1v-1.2M541.92 167.8v1.2M543.7 273.1v-2.4M543.7 167.8v2.4M310.7 172.5h2.4M543.7 172.5h-2.4M310.7 199.8h2.4M543.7 199.8h-2.4M310.7 227.1h2.4M543.7 227.1h-2.4M310.7 254.4h2.4M543.7 254.4h-2.4" stroke="#262626" stroke-width="0.8" fill="none"/>
<path d="M387.87 167.8V273.1" stroke="#EDB120" stroke-width="1.3" stroke-dasharray="4.4 1.3 1.4 1.3" fill="none"/>
<path d="M388.37 167.8V273.1" stroke="#D95319" stroke-width="1.3" stroke-dasharray="4.6 3.8" fill="none"/>
<rect x="310.7" y="167.8" width="233" height="105.3" fill="none" stroke="#262626" stroke-width="0.9"/>
<path d="M310.7 254 L318.47 254 L326.23 254 L334 254 L341.77 254.2 L349.53 254.6 L357.3 255 L365.07 256 L372.83 258.5 L380.6 262.3 L388.37 268.2 L396.13 251.8 L403.9 244.1 L411.67 237.9 L419.43 232.5 L427.2 226.8 L434.97 221.4 L442.73 216.2 L450.5 210.6 L458.27 205.1 L466.03 199.7 L473.8 194.4 L481.57 189 L489.33 183.5 L497.1 178 L504.87 173.9 L512.63 173.9 L520.4 173.9 L528.17 173.9 L535.93 173.9 L543.7 173.9" stroke="#0072BD" stroke-width="1.4" fill="none" stroke-linejoin="round"/>
<use href="#m" x="310.7" y="254"/>
<use href="#m" x="318.47" y="254"/>
<use href="#m" x="326.23" y="254"/>
<use href="#m" x="334" y="254"/>
<use href="#m" x="341.77" y="254.2"/>
<use href="#m" x="349.53" y="254.6"/>
<use href="#m" x="357.3" y="255"/>
<use href="#m" x="365.07" y="256"/>
<use href="#m" x="372.83" y="258.5"/>
<use href="#m" x="380.6" y="262.3"/>
<use href="#m" x="388.37" y="268.2"/>
<use href="#m" x="396.13" y="251.8"/>
<use href="#m" x="403.9" y="244.1"/>
<use href="#m" x="411.67" y="237.9"/>
<use href="#m" x="419.43" y="232.5"/>
<use href="#m" x="427.2" y="226.8"/>
<use href="#m" x="434.97" y="221.4"/>
<use href="#m" x="442.73" y="216.2"/>
<use href="#m" x="450.5" y="210.6"/>
<use href="#m" x="458.27" y="205.1"/>
<use href="#m" x="466.03" y="199.7"/>
<use href="#m" x="473.8" y="194.4"/>
<use href="#m" x="481.57" y="189"/>
<use href="#m" x="489.33" y="183.5"/>
<use href="#m" x="497.1" y="178"/>
<use href="#m" x="504.87" y="173.9"/>
<use href="#m" x="512.63" y="173.9"/>
<use href="#m" x="520.4" y="173.9"/>
<use href="#m" x="528.17" y="173.9"/>
<use href="#m" x="535.93" y="173.9"/>
<use href="#m" x="543.7" y="173.9"/>
<rect x="487.6" y="228.2" width="51.1" height="39.7" fill="#fff" stroke="#262626" stroke-width="0.8"/>
<path d="M489.4 234.9h16.7" stroke="#0072BD" stroke-width="1.4"/><use href="#m" x="497.7" y="234.9"/>
<path d="M490.3 247.95h14" stroke="#D95319" stroke-width="1.3" stroke-dasharray="3.9 4.5"/>
<path d="M489.4 261h16.7" stroke="#EDB120" stroke-width="1.3" stroke-dasharray="4.2 1 1.2 1"/>
<text class="lg" x="507.6" y="238.4" textLength="24.1" lengthAdjust="spacingAndGlyphs">Error</text>
<text class="lg" x="507.6" y="251.45" textLength="29" lengthAdjust="spacingAndGlyphs">Oracle</text>
<text class="lg" x="507.6" y="264.5" textLength="15" lengthAdjust="spacingAndGlyphs">CV</text>
<text class="tl" x="306.8" y="178.3" text-anchor="end">10<tspan class="sup" dx="0.4" dy="-5.3">0</tspan></text>
<text class="tl" x="306.8" y="205.6" text-anchor="end">10<tspan class="sup" dx="0.4" dy="-5.3">-1</tspan></text>
<text class="tl" x="306.8" y="232.9" text-anchor="end">10<tspan class="sup" dx="0.4" dy="-5.3">-2</tspan></text>
<text class="tl" x="306.8" y="260.2" text-anchor="end">10<tspan class="sup" dx="0.4" dy="-5.3">-3</tspan></text>
<text class="tl" x="309.7" y="292.4" text-anchor="middle">10<tspan class="sup" dx="0.4" dy="-5.3">-5</tspan></text>
<text class="tl" x="348.53" y="292.4" text-anchor="middle">10<tspan class="sup" dx="0.4" dy="-5.3">-4</tspan></text>
<text class="tl" x="387.37" y="292.4" text-anchor="middle">10<tspan class="sup" dx="0.4" dy="-5.3">-3</tspan></text>
<text class="tl" x="426.2" y="292.4" text-anchor="middle">10<tspan class="sup" dx="0.4" dy="-5.3">-2</tspan></text>
<text class="tl" x="465.03" y="292.4" text-anchor="middle">10<tspan class="sup" dx="0.4" dy="-5.3">-1</tspan></text>
<text class="tl" x="505.17" y="292.4" text-anchor="middle">10<tspan class="sup" dx="0.4" dy="-5.3">0</tspan></text>
<text class="tl" x="544" y="292.4" text-anchor="middle">10<tspan class="sup" dx="0.4" dy="-5.3">1</tspan></text>
<text class="ti" x="427.2" y="163" text-anchor="middle"><tspan class="al">α</tspan> = 1</text>
</g>
</svg></body></html>
